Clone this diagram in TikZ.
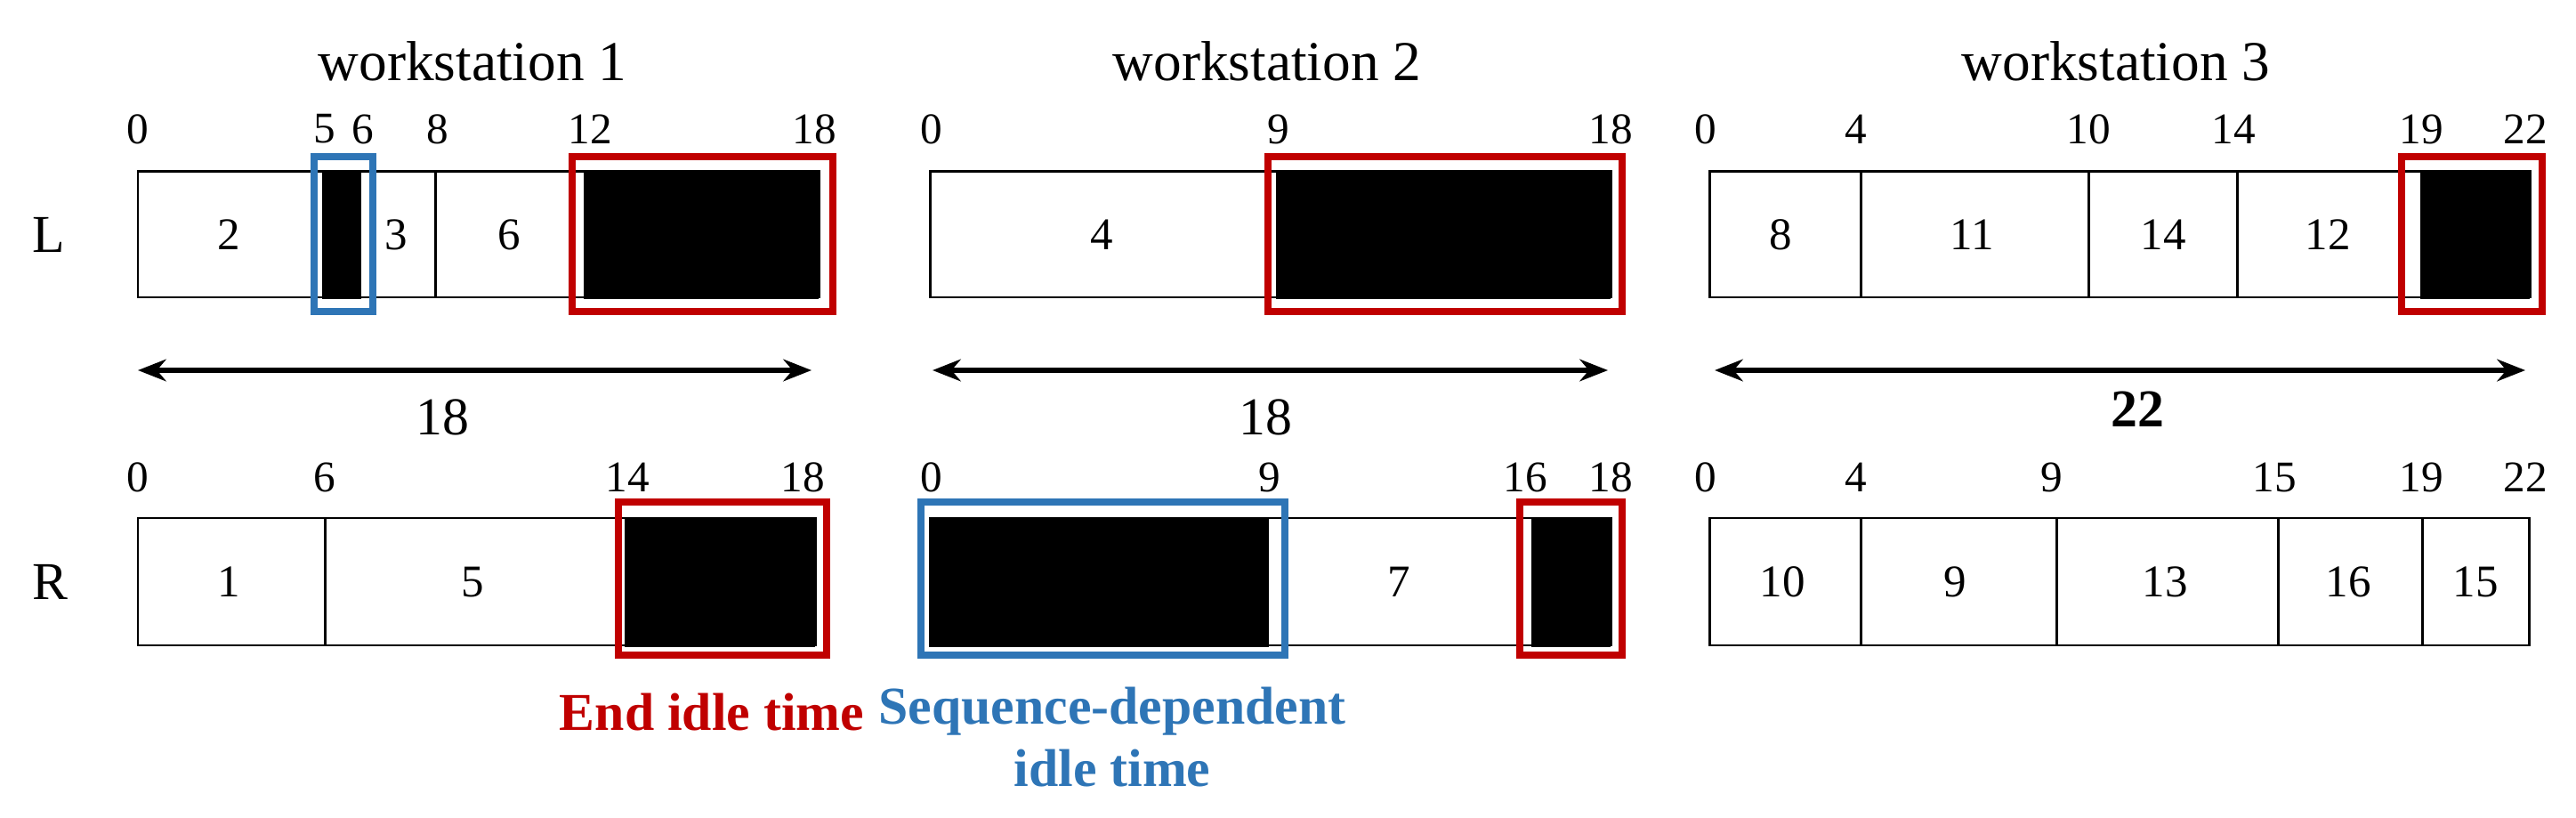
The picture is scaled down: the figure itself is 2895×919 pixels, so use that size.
\documentclass[tikz,border=0pt]{standalone}
\usepackage{fontspec}
\setmainfont{Liberation Serif}
\usetikzlibrary{arrows.meta}
\definecolor{idred}{HTML}{C00000}
\definecolor{idblue}{HTML}{2E75B6}
\tikzset{
  cellbox/.style={draw=black,line width=0.85pt},
  idlefill/.style={fill=black},
  redframe/.style={draw=idred,line width=2.2pt},
  blueframe/.style={draw=idblue,line width=2.2pt},
  tick/.style={font=\fontsize{14}{14}\selectfont,inner sep=0pt},
  lab/.style={font=\fontsize{14.5}{14.5}\selectfont,inner sep=0pt},
  title/.style={font=\fontsize{18}{18}\selectfont,inner sep=0pt},
  rowlab/.style={font=\fontsize{17}{17}\selectfont,inner sep=0pt},
  span/.style={line width=1.5pt,{Stealth[length=9pt,width=7pt]}-{Stealth[length=9pt,width=7pt]}},
  spanlab/.style={font=\fontsize{17}{17}\selectfont,inner sep=0pt},
  note/.style={font=\fontsize{17}{20}\selectfont\bfseries,inner sep=0pt,align=center}
}
\begin{document}
\begin{tikzpicture}[x=0.01cm,y=-0.01cm]
\useasboundingbox (0,0) rectangle (2895,919);
% titles
\node[title] (t1) at (531,69) {workstation 1};
\node[title] (t2) at (1424,69) {workstation 2};
\node[title] (t3) at (2378,69) {workstation 3};
\node[rowlab] (rl) at (55,264) {L};
\node[rowlab] (rr) at (56,654) {R};
% ===== WS1 L
\draw[cellbox] (155,193) rectangle (920,334);
\draw[cellbox] (489,193) -- (489,334);
\fill[idlefill] (362,193) rectangle (406,336);
\fill[idlefill] (656,193) rectangle (920,336);
\draw[blueframe] (353,176) rectangle (419,350);
\draw[redframe] (643,176) rectangle (936,350);
\node[lab] (a2) at (257,264) {2};
\node[lab] (a3) at (445,264) {3};
\node[lab] (a6) at (572,264) {6};
\foreach \x/\t in {155/0,365/5,408/6,492/8,663/12,915/18} \node[tick] at (\x,145) {\t};
% ===== WS1 R
\draw[cellbox] (155,582) rectangle (916,725);
\draw[cellbox] (365,582) -- (365,725);
\fill[idlefill] (702,582) rectangle (916,727);
\draw[redframe] (695,564) rectangle (929,736);
\node[lab] (b1) at (257,654) {1};
\node[lab] (b5) at (531,654) {5};
\foreach \x/\t in {155/0,365/6,705/14,902/18} \node[tick] at (\x,536) {\t};
% span 1
\coordinate (s1a) at (155,416); \coordinate (s1b) at (912,416);
\draw[span] (s1a) -- (s1b);
\node[spanlab] (n1) at (497,469) {18};
% ===== WS2 L
\draw[cellbox] (1045,193) rectangle (1810,334);
\fill[idlefill] (1434,193) rectangle (1810,336);
\draw[redframe] (1425,176) rectangle (1823,350);
\node[lab] (c4) at (1238,264) {4};
\foreach \x/\t in {1047/0,1437/9,1810/18} \node[tick] at (\x,145) {\t};
% ===== WS2 R
\draw[cellbox] (1045,582) rectangle (1810,725);
\fill[idlefill] (1044,581) rectangle (1426,727);
\fill[idlefill] (1721,581) rectangle (1810,727);
\draw[blueframe] (1035,564) rectangle (1444,736);
\draw[redframe] (1708,564) rectangle (1823,736);
\node[lab] (d7) at (1572,654) {7};
\foreach \x/\t in {1047/0,1427/9,1714/16,1810/18} \node[tick] at (\x,536) {\t};
% span 2
\coordinate (s2a) at (1048,416); \coordinate (s2b) at (1807,416);
\draw[span] (s2a) -- (s2b);
\node[spanlab] (n2) at (1422,469) {18};
% ===== WS3 L
\draw[cellbox] (1921,193) rectangle (2843,334);
\foreach \x in {2091,2347,2514} \draw[cellbox] (\x,193) -- (\x,334);
\fill[idlefill] (2720,193) rectangle (2843,336);
\draw[redframe] (2699,176) rectangle (2857,350);
\node[lab] (e8) at (2001,264) {8};
\node[lab] (e11) at (2216,264) {11};
\node[lab] (e14) at (2431,264) {14};
\node[lab] (e12) at (2616,264) {12};
\foreach \x/\t in {1917/0,2086/4,2347/10,2510/14,2721/19,2838/22} \node[tick] at (\x,145) {\t};
% ===== WS3 R
\draw[cellbox] (1921,582) rectangle (2842,725);
\foreach \x in {2091,2311,2560,2722} \draw[cellbox] (\x,582) -- (\x,725);
\node[lab] (f10) at (2003,654) {10};
\node[lab] (f9) at (2197,654) {9};
\node[lab] (f13) at (2433,654) {13};
\node[lab] (f16) at (2639,654) {16};
\node[lab] (f15) at (2782,654) {15};
\foreach \x/\t in {1917/0,2086/4,2306/9,2556/15,2721/19,2838/22} \node[tick] at (\x,536) {\t};
% span 3
\coordinate (s3a) at (1927,416); \coordinate (s3b) at (2838,416);
\draw[span] (s3a) -- (s3b);
\node[spanlab,font=\fontsize{17}{17}\selectfont\bfseries] (n3) at (2402,460) {22};
% notes
\node[note,text=idred] (endidle) at (800,800) {End idle time};
\node[note,text=idblue] (seqidle) at (1250,828) {Sequence-dependent\\idle time};
\end{tikzpicture}
\end{document}
